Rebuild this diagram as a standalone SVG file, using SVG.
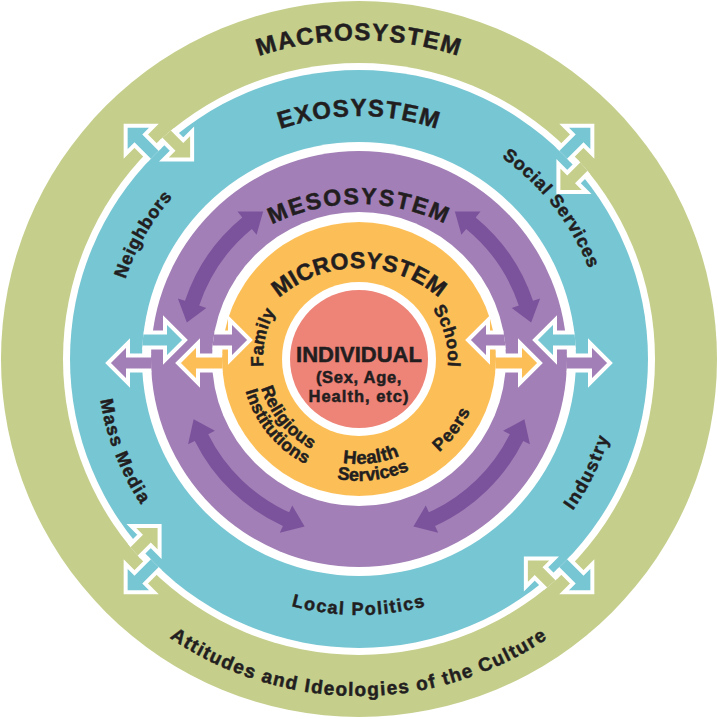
<svg xmlns="http://www.w3.org/2000/svg" width="718" height="719" viewBox="0 0 718 719">
<style>
.t{font-family:"Liberation Sans",Arial,sans-serif;font-weight:bold;fill:#221e1f;stroke:#221e1f;stroke-width:0.5;text-anchor:middle}
.ol{stroke:#fff;stroke-width:4;stroke-linejoin:miter}
.gap{fill:#fff}
.green{fill:#c5ce8a}
.blue{fill:#77c6d3}
.purple{fill:#a27fb6}
.orange{fill:#fcbf58}
.red{fill:#ee8377}
.dpurple{fill:#7b539c}
</style>
<defs>
<clipPath id="notGreen"><path clip-rule="evenodd" d="M-10,-10H728V729H-10Z M1,359a358,358 0 1,0 716,0a358,358 0 1,0 -716,0Z M63,359a296,296 0 1,0 592,0a296,296 0 1,0 -592,0Z"/></clipPath>
<clipPath id="notBlue"><path clip-rule="evenodd" d="M-10,-10H728V729H-10Z M70,359a289,289 0 1,0 578,0a289,289 0 1,0 -578,0Z M142,359a217,217 0 1,0 434,0a217,217 0 1,0 -434,0Z"/></clipPath>
<clipPath id="notPurple"><path clip-rule="evenodd" d="M-10,-10H728V729H-10Z M151,359a208,208 0 1,0 416,0a208,208 0 1,0 -416,0Z M212,359a147,147 0 1,0 294,0a147,147 0 1,0 -294,0Z"/></clipPath>
<clipPath id="notOrange"><path clip-rule="evenodd" d="M-10,-10H728V729H-10Z M222,359a137,137 0 1,0 274,0a137,137 0 1,0 -274,0Z M282,359a77,77 0 1,0 154,0a77,77 0 1,0 -154,0Z"/></clipPath>
<path id="curve45" d="M291.65,196.4 L306.35,175.4 L308.42,182.61 A183.5,183.5 0 0 1 409.58,182.61 L411.65,175.4 L426.35,196.4 L403.38,204.24 L405.45,197.03 A168.5,168.5 0 0 0 312.55,197.03 L314.62,204.24 Z"/>
<path id="curve52" d="M281.85,200.81 L295.24,178.96 L297.75,186.03 A183.5,183.5 0 0 1 420.25,186.03 L422.76,178.96 L436.15,200.81 L412.74,207.23 L415.25,200.17 A168.5,168.5 0 0 0 302.75,200.17 L305.26,207.23 Z"/>
<polygon id="diagOut" points="240,-7.5 310,-7.5 310,-20 330,0 310,20 310,7.5 240,7.5"/>
<polygon id="diagIn" points="330,15.5 279,15.5 279,3 259,23 279,43 279,30.5 330,30.5"/>
<path id="p319" d="M40,359 A319,319 0 0 1 678,359"/>
<path id="p243" d="M116,359 A243,243 0 0 1 602,359"/>
<path id="pMeso" d="M163,400 A196,196 0 0 1 555,400"/>
<path id="pMicro" d="M237,390 A122,122 0 0 1 481,390"/>
<path id="p247" d="M112,359 A247,247 0 0 1 606,359"/>
<path id="p96" d="M263,359 A96,96 0 0 1 455,359"/>
<path id="p89" d="M270,359 A89,89 0 0 1 448,359"/>
<path id="q337" d="M22,359 A337,337 0 0 0 696,359"/>
<path id="q256" d="M103,359 A256,256 0 0 0 615,359"/>
<path id="q262" d="M97,359 A262,262 0 0 0 621,359"/>
<path id="q123" d="M236,359 A123,123 0 0 0 482,359"/>
<path id="q105" d="M254,359 A105,105 0 0 0 464,359"/>
<path id="q122" d="M237,359 A122,122 0 0 0 481,359"/>
<path id="q102" d="M257,359 A102,102 0 0 0 461,359"/>
<path id="q118" d="M241,359 A118,118 0 0 0 477,359"/>
</defs>

<g id="node-macrosystem">
<circle class="green" cx="359" cy="359" r="358"/>
<circle class="gap" cx="359" cy="359" r="296"/>
</g>
<g id="node-exosystem">
<circle class="blue" cx="359" cy="359" r="289"/>
<circle class="gap" cx="359" cy="359" r="217"/>
</g>
<g id="node-mesosystem">
<circle class="purple" cx="359" cy="359" r="208"/>
<circle class="gap" cx="359" cy="359" r="147"/>
</g>
<g id="node-microsystem">
<circle class="orange" cx="359" cy="359" r="137"/>
<circle class="gap" cx="359" cy="359" r="77"/>
</g>
<g id="node-individual">
<circle class="red" cx="359" cy="359" r="69"/>
</g>

<g id="connectors">
<g id="meso-arrows" class="dpurple">
<use href="#curve45" transform="rotate(-55.5 359 359)"/>
<use href="#curve45" transform="rotate(55.5 359 359)"/>
<use href="#curve52" transform="rotate(-136 359 359)"/>
<use href="#curve52" transform="rotate(136 359 359)"/>
</g>
<g id="exo-macro-arrows">
<g clip-path="url(#notBlue)" class="blue ol">
<use href="#diagOut" transform="translate(359 359) rotate(-135)"/>
<use href="#diagOut" transform="translate(359 359) rotate(-45)"/>
<use href="#diagOut" transform="translate(359 359) rotate(45)"/>
<use href="#diagOut" transform="translate(359 359) rotate(135)"/>
</g>
<g clip-path="url(#notGreen)" class="green ol">
<use href="#diagIn" transform="translate(359 359) rotate(-135)"/>
<use href="#diagIn" transform="translate(359 359) rotate(-45)"/>
<use href="#diagIn" transform="translate(359 359) rotate(45)"/>
<use href="#diagIn" transform="translate(359 359) rotate(135)"/>
</g>
</g>
<g id="left-arrows">
<g clip-path="url(#notBlue)"><polygon class="blue ol" points="110,332.5 165,332.5 165,320 185,340 165,360 165,347.5 110,347.5"/></g>
<g clip-path="url(#notPurple)"><polygon class="purple ol" points="190,355.5 128,355.5 128,343 108,363 128,383 128,370.5 190,370.5"/></g>
<g clip-path="url(#notPurple)"><polygon class="purple ol" points="190,332.5 230,332.5 230,320 250,340 230,360 230,347.5 190,347.5"/></g>
<g clip-path="url(#notOrange)"><polygon class="orange ol" points="245,355.5 198,355.5 198,343 178,363 198,383 198,370.5 245,370.5"/></g>
</g>
<g id="right-arrows">
<g clip-path="url(#notBlue)"><polygon class="blue ol" points="600,332.5 555,332.5 555,320 535,340 555,360 555,347.5 600,347.5"/></g>
<g clip-path="url(#notPurple)"><polygon class="purple ol" points="530,355.5 590,355.5 590,343 610,363 590,383 590,370.5 530,370.5"/></g>
<g clip-path="url(#notPurple)"><polygon class="purple ol" points="525,332.5 488,332.5 488,320 468,340 488,360 488,347.5 525,347.5"/></g>
<g clip-path="url(#notOrange)"><polygon class="orange ol" points="470,355.5 520,355.5 520,343 540,363 520,383 520,370.5 470,370.5"/></g>
</g>
</g>

<g id="labels-macrosystem">
<text class="t" font-size="24" letter-spacing="1.3"><textPath href="#p319" startOffset="50%">MACROSYSTEM</textPath></text>
<text class="t" font-size="19" letter-spacing="1.35"><textPath href="#q337" startOffset="50%">Attitudes and Ideologies of the Culture</textPath></text>
</g>
<g id="labels-exosystem">
<text class="t" font-size="24" letter-spacing="1.2"><textPath href="#p243" startOffset="50%">EXOSYSTEM</textPath></text>
<text class="t" font-size="18" letter-spacing="0.8" transform="rotate(-60 359 359)"><textPath href="#p247" startOffset="50%">Neighbors</textPath></text>
<text class="t" font-size="18" letter-spacing="0.8" transform="rotate(52 359 359)"><textPath href="#p247" startOffset="50%">Social Services</textPath></text>
<text class="t" font-size="18" letter-spacing="1.3" transform="rotate(68.5 359 359)"><textPath href="#q262" startOffset="50%">Mass Media</textPath></text>
<text class="t" font-size="18" letter-spacing="1.5" transform="rotate(-63.7 359 359)"><textPath href="#q262" startOffset="50%">Industry</textPath></text>
<text class="t" font-size="18" letter-spacing="1.5"><textPath href="#q256" startOffset="50%">Local Politics</textPath></text>
</g>
<g id="labels-mesosystem">
<text class="t" font-size="23" letter-spacing="1.8"><textPath href="#pMeso" startOffset="50%">MESOSYSTEM</textPath></text>
</g>
<g id="labels-microsystem">
<text class="t" font-size="23" letter-spacing="0.3"><textPath href="#pMicro" startOffset="50%">MICROSYSTEM</textPath></text>
<text class="t" font-size="17.5" letter-spacing="0.3" transform="rotate(-77.5 359 359)"><textPath href="#p96" startOffset="50%">Family</textPath></text>
<text class="t" font-size="17.5" letter-spacing="0.5" transform="rotate(75.4 359 359)"><textPath href="#p89" startOffset="50%">School</textPath></text>
<text class="t" font-size="17.5" letter-spacing="1" transform="rotate(-53 359 359)"><textPath href="#q123" startOffset="50%">Peers</textPath></text>
<text class="t" font-size="18.5" letter-spacing="0.3" transform="rotate(-7 359 359)"><textPath href="#q105" startOffset="50%">Health</textPath></text>
<text class="t" font-size="18" transform="rotate(-7 359 359)"><textPath href="#q122" startOffset="50%">Services</textPath></text>
<text class="t" font-size="17.5" letter-spacing="0.3" transform="rotate(50.5 359 359)"><textPath href="#q102" startOffset="50%">Religious</textPath></text>
<text class="t" font-size="17.5" letter-spacing="0.3" transform="rotate(50.5 359 359)"><textPath href="#q118" startOffset="50%">Institutions</textPath></text>
</g>
<g id="labels-individual">
<text class="t" x="359" y="362" font-size="22">INDIVIDUAL</text>
<text class="t" x="359" y="383" font-size="16.5" letter-spacing="0.7">(Sex, Age,</text>
<text class="t" x="359" y="401.5" font-size="16.5" letter-spacing="1">Health, etc)</text>
</g>
</svg>
